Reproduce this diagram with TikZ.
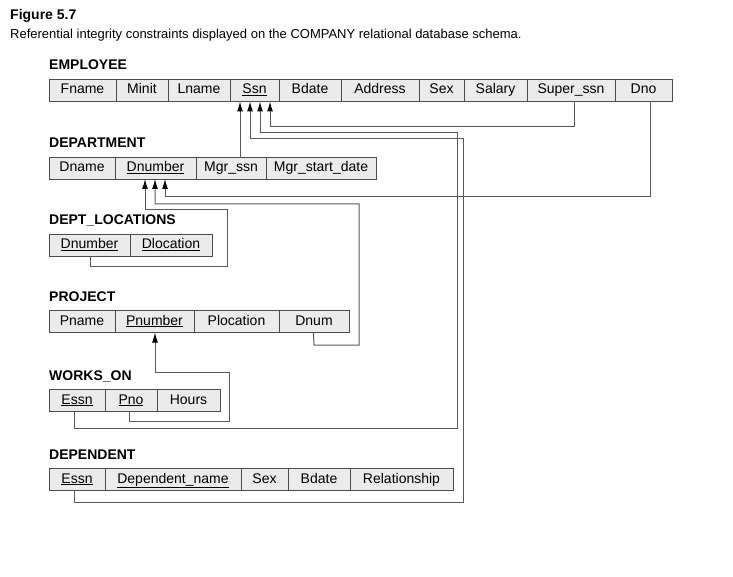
\documentclass[tikz,border=0pt]{standalone}
\usepackage{fontspec}
\setmainfont{Liberation Sans}
\usepackage{tikz}
\usetikzlibrary{arrows.meta}

\tikzset{
  cell/.style={draw=black!70,fill=black!8,line width=0.7pt,minimum height=22,inner sep=0,outer sep=0,anchor=west,
    text height=10pt,text depth=3pt,font=\fontsize{14}{16}\selectfont},
  rel/.style={anchor=west,inner sep=0,font=\fontsize{14}{16}\selectfont\bfseries},
  fk/.style={draw=black!65,line width=1pt,-{Latex[length=10pt,width=6pt,black]}},
}
\newcommand{\key}[1]{\underline{#1}}

\begin{document}
\begin{tikzpicture}[x=1pt,y=-1pt]
        \useasboundingbox (0,0) rectangle (733,577);

        \node[anchor=west,inner sep=0,font=\fontsize{14}{16}\selectfont\bfseries] (fig) at (10,16) {Figure 5.7};
        \node[anchor=west,inner sep=0,font=\fontsize{13}{15}\selectfont] (cap) at (10,35) {Referential integrity constraints displayed on the COMPANY relational database schema.};

        % EMPLOYEE
        \node[rel] (empL) at (49,65) {EMPLOYEE};
        \node[cell,minimum width=67] (empFname) at (49,90.5) {Fname};
        \node[cell,minimum width=52] (empMinit) at (116,90.5) {Minit};
        \node[cell,minimum width=62] (empLname) at (168,90.5) {Lname};
        \node[cell,minimum width=49] (empSsn) at (230,90.5) {\key{Ssn}};
        \node[cell,minimum width=62] (empBdate) at (279,90.5) {Bdate};
        \node[cell,minimum width=78] (empAddress) at (341,90.5) {Address};
        \node[cell,minimum width=45] (empSex) at (419,90.5) {Sex};
        \node[cell,minimum width=63] (empSalary) at (464,90.5) {Salary};
        \node[cell,minimum width=88] (empSuper) at (527,90.5) {Super\_ssn};
        \node[cell,minimum width=57] (empDno) at (615,90.5) {Dno};

        % DEPARTMENT
        \node[rel] (deptL) at (49,143) {DEPARTMENT};
        \node[cell,minimum width=66] (deptDname) at (49,168) {Dname};
        \node[cell,minimum width=81] (deptDnumber) at (115,168) {\key{Dnumber}};
        \node[cell,minimum width=70] (deptMgr) at (196,168) {Mgr\_ssn};
        \node[cell,minimum width=110] (deptStart) at (266,168) {Mgr\_start\_date};

        % DEPT_LOCATIONS
        \node[rel] (dlL) at (49,220) {DEPT\_LOCATIONS};
        \node[cell,minimum width=81] (dlDnumber) at (49,245) {\key{Dnumber}};
        \node[cell,minimum width=82] (dlDlocation) at (130,245) {\key{Dlocation}};

        % PROJECT
        \node[rel] (projL) at (49,297) {PROJECT};
        \node[cell,minimum width=66] (projPname) at (49,321.5) {Pname};
        \node[cell,minimum width=79] (projPnumber) at (115,321.5) {\key{Pnumber}};
        \node[cell,minimum width=85] (projPlocation) at (194,321.5) {Plocation};
        \node[cell,minimum width=70] (projDnum) at (279,321.5) {Dnum};

        % WORKS_ON
        \node[rel] (woL) at (49,376) {WORKS\_ON};
        \node[cell,minimum width=56] (woEssn) at (49,400.5) {\key{Essn}};
        \node[cell,minimum width=52] (woPno) at (105,400.5) {\key{Pno}};
        \node[cell,minimum width=63] (woHours) at (157,400.5) {Hours};

        % DEPENDENT
        \node[rel] (depL) at (49,455) {DEPENDENT};
        \node[cell,minimum width=56] (depEssn) at (49,479.5) {\key{Essn}};
        \node[cell,minimum width=136] (depName) at (105,479.5) {\key{Dependent\_name}};
        \node[cell,minimum width=47] (depSex) at (241,479.5) {Sex};
        \node[cell,minimum width=62] (depBdate) at (288,479.5) {Bdate};
        \node[cell,minimum width=103] (depRel) at (350,479.5) {Relationship};

        % foreign keys
        \draw[fk] ([xshift=9]deptMgr.north) -- ([xshift=-14.5]empSsn.south);
        \draw[fk] ([xshift=3]empSuper.south) -- (574,127) -- (270,127) -- ([xshift=15.5]empSsn.south);
        \draw[fk] ([xshift=-3]woEssn.south) -- (74,428) -- (457,428) -- (457,133) -- (260,133) -- ([xshift=5.5]empSsn.south);
        \draw[fk] ([xshift=-3]depEssn.south) -- (74,502) -- (463,502) -- (463,139) -- (250,139) -- ([xshift=-4.5]empSsn.south);
        \draw[fk] ([xshift=6.5]empDno.south) -- (650,197) -- (165,197) -- ([xshift=9.5]deptDnumber.south);
        \draw[fk] ([xshift=-0.5]projDnum.south) -- (314,345) -- (359,345) -- (359,204) -- (155,204) -- ([xshift=-0.5]deptDnumber.south);
        \draw[fk] ([xshift=0.5]dlDnumber.south) -- (90,267) -- (227,267) -- (227,210) -- (145,210) -- ([xshift=-10.5]deptDnumber.south);
        \draw[fk] ([xshift=-2]woPno.south) -- (129,421) -- (229,421) -- (229,372) -- (155,372) -- ([xshift=0.5]projPnumber.south);
\end{tikzpicture}
\end{document}
